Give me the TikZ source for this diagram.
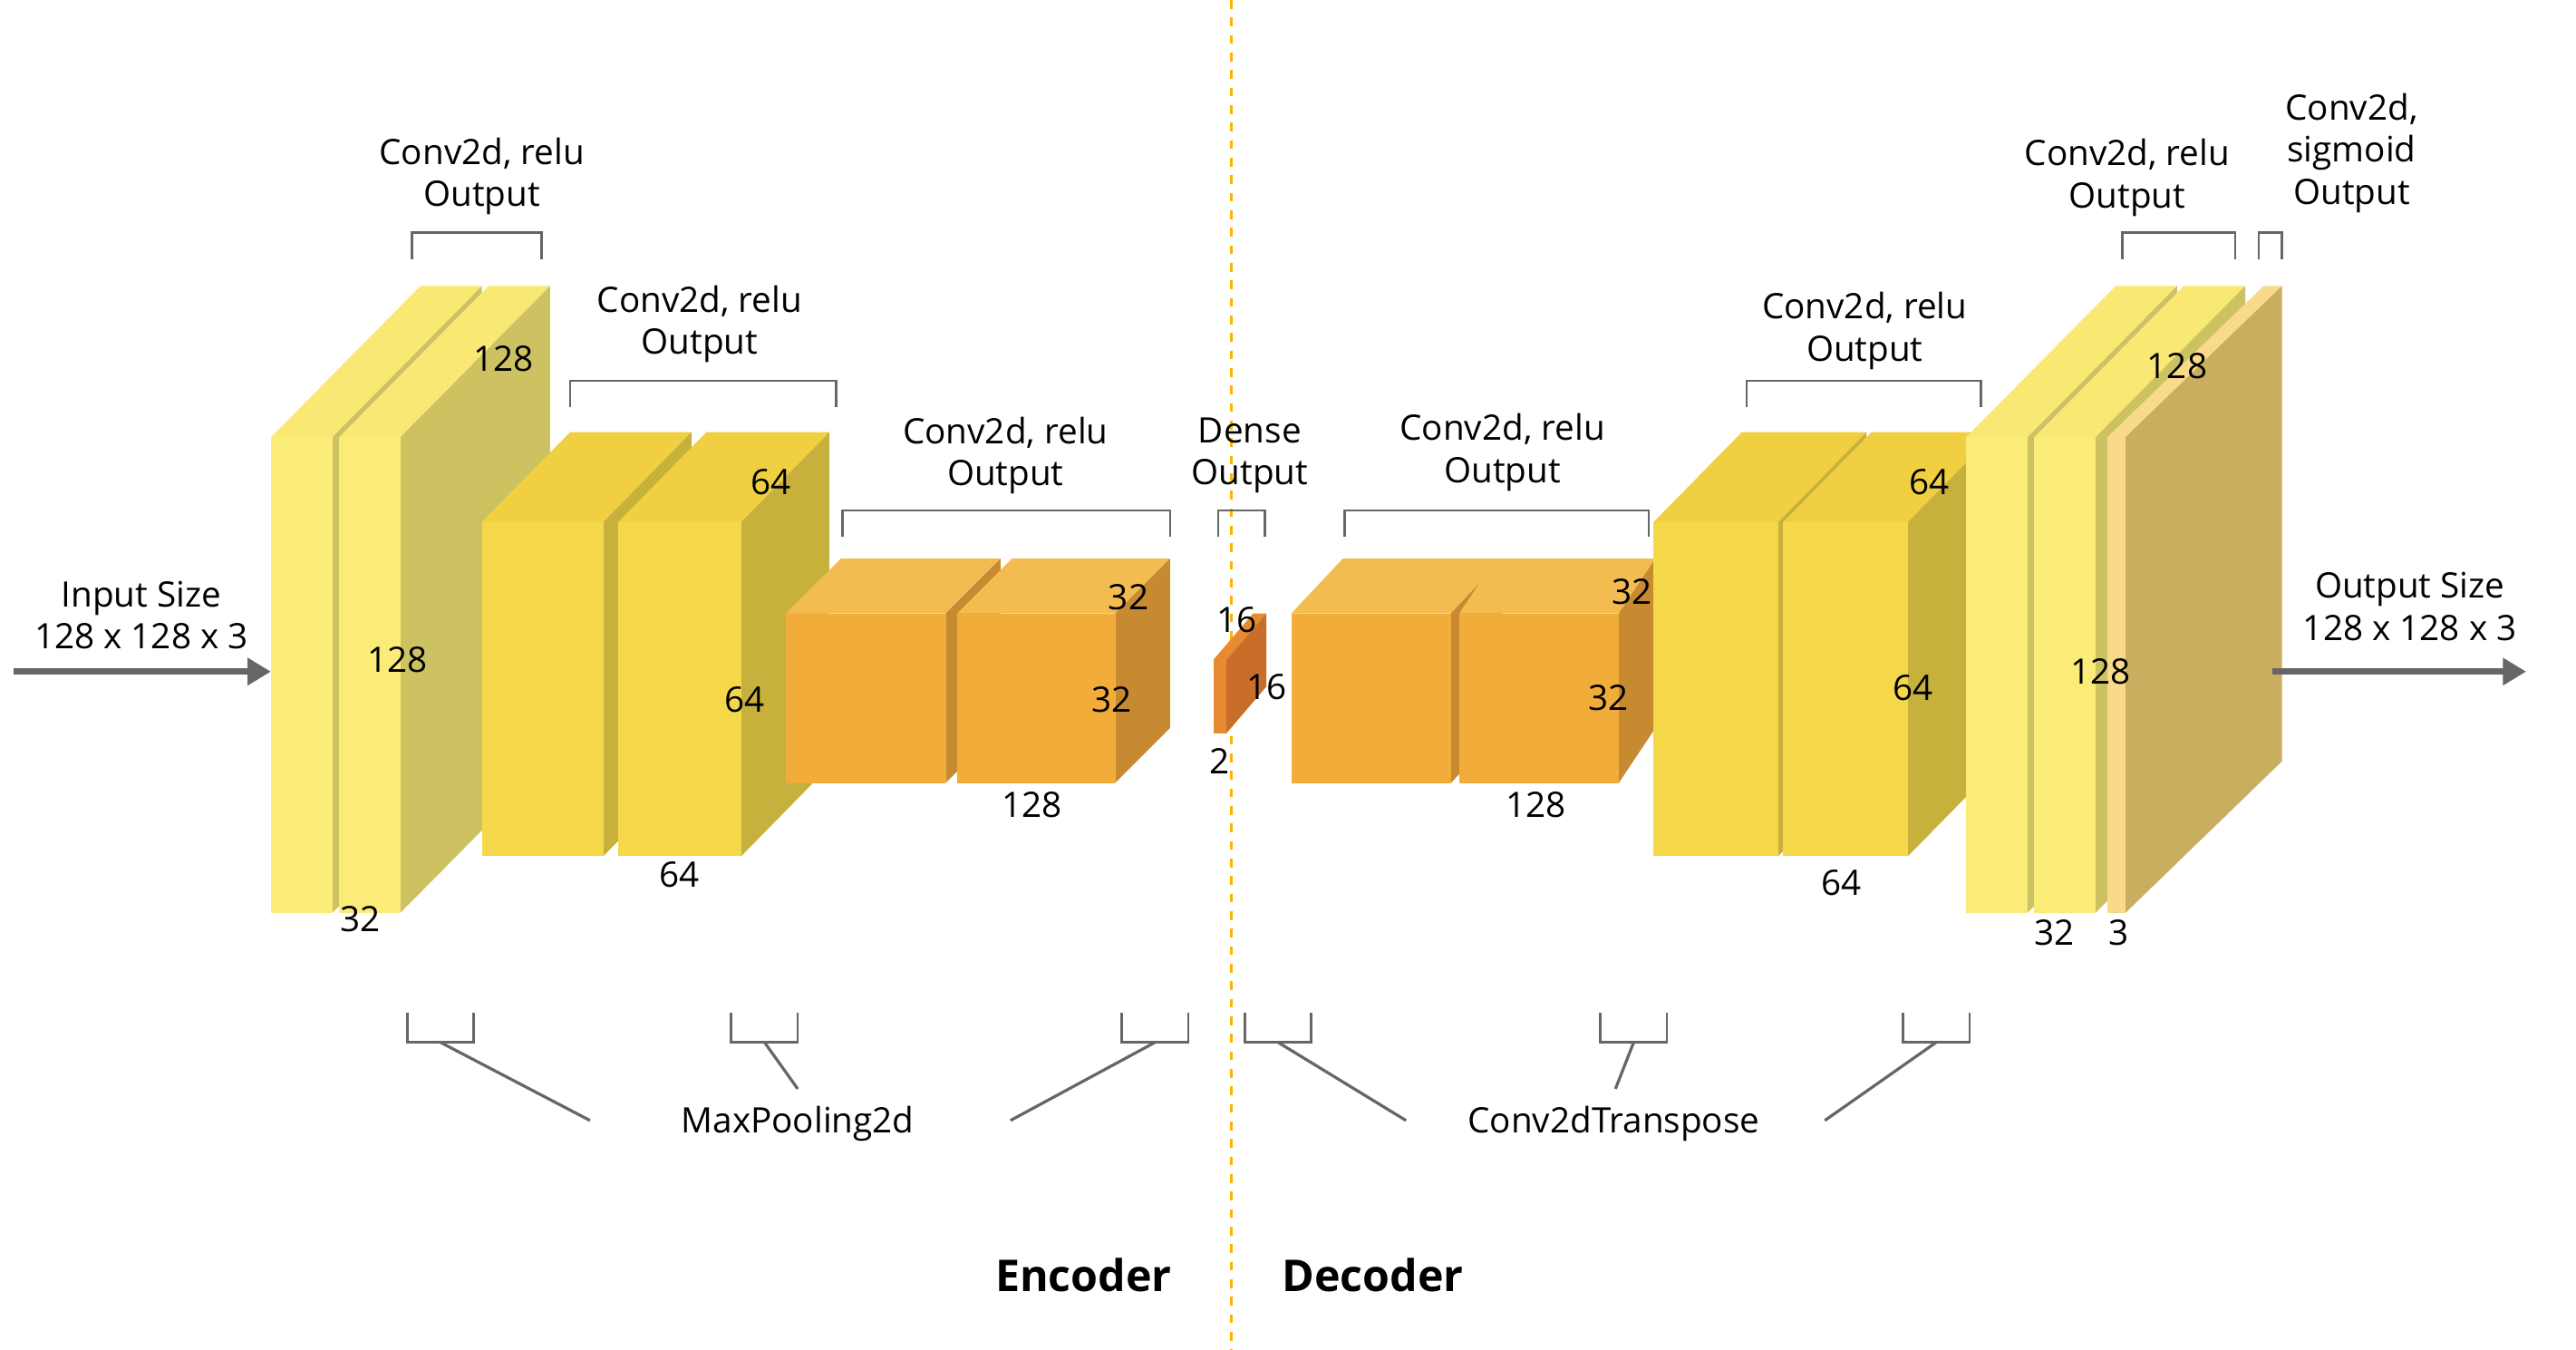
\documentclass[tikz,border=0pt]{standalone}
\usepackage{fontspec}
\setmainfont{Open Sans}
\usetikzlibrary{arrows.meta}
\definecolor{ya}{HTML}{FBEB78}\definecolor{yat}{HTML}{F9E874}\definecolor{yas}{HTML}{CDC262}
\definecolor{yb}{HTML}{F5D84A}\definecolor{ybt}{HTML}{F0D040}\definecolor{ybs}{HTML}{C8B03C}
\definecolor{oa}{HTML}{F2AC3A}\definecolor{oat}{HTML}{F2BC50}\definecolor{oas}{HTML}{C88A30}
\definecolor{od}{HTML}{E88A30}\definecolor{ods}{HTML}{C86E2A}
\definecolor{pe}{HTML}{F8DA8A}\definecolor{tan}{HTML}{C9AE60}
\newcommand\cub[9]{%
 \fill[#8] (#1,#3)--({#1+#5},{#3-#6})--({#2+#5},{#3-#6})--(#2,#3)--cycle;
 \fill[#9] (#2,#3)--({#2+#5},{#3-#6})--({#2+#5},{#4-#6})--(#2,#4)--cycle;
 \fill[#7] (#1,#3) rectangle (#2,#4);}
\newcommand\tbr[3]{\draw[br] (#1,{#3+16})--(#1,#3)--(#2,#3)--(#2,{#3+16});}
\newcommand\bbr[3]{\draw[br] (#1,{#3-18})--(#1,#3)--(#2,#3)--(#2,{#3-18});}
\begin{document}
\begin{tikzpicture}[x=0.02cm,y=-0.02cm,
 lab/.style={font=\fontsize{12}{14.5}\selectfont,align=center,inner sep=0pt},
 br/.style={draw=black!60,line width=0.8pt},
 ln/.style={draw=black!60,line width=1pt},
 arr/.style={draw=black!60,line width=2.2pt,-{Triangle[length=8pt,width=9pt]}}]
\useasboundingbox (0,0) rectangle (1550,812);
\draw[orange!60!yellow,dashed,line width=0.8pt] (741,0)--(741,812);
% encoder
\cub{163}{200}{263}{549}{90}{91}{ya}{yat}{yas}
\cub{204}{241}{263}{549}{90}{91}{ya}{yat}{yas}
\cub{290}{363}{314}{515}{53}{54}{yb}{ybt}{ybs}
\cub{372}{446}{314}{515}{53}{54}{yb}{ybt}{ybs}
\cub{473}{569}{369}{471}{33}{33}{oa}{oat}{oas}
\cub{576}{671}{369}{471}{33}{33}{oa}{oat}{oas}
\cub{730}{738}{397}{441}{24}{28}{od}{od}{ods}
% decoder
\cub{777}{873}{369}{471}{31}{33}{oa}{oat}{oas}
\cub{878}{974}{369}{471}{22}{33}{oa}{oat}{oas}
\cub{995}{1070}{314}{515}{53}{54}{yb}{ybt}{ybs}
\cub{1073}{1148}{314}{515}{53}{54}{yb}{ybt}{ybs}
\cub{1183}{1220}{263}{549}{90}{91}{ya}{yat}{yas}
\cub{1224}{1261}{263}{549}{90}{91}{ya}{yat}{yas}
\cub{1268}{1279}{263}{549}{94}{91}{pe}{pe}{tan}
% arrows
\coordinate (in) at (8,404); \coordinate (inb) at (163,404);
\coordinate (outa) at (1367,404); \coordinate (out) at (1520,404);
\draw[arr] (in)--(inb); \draw[arr] (outa)--(out);
% brackets
\tbr{248}{326}{140}\tbr{343}{503}{229}\tbr{507}{704}{307}\tbr{733}{761}{307}
\tbr{809}{992}{307}\tbr{1051}{1192}{229}\tbr{1277}{1345}{140}\tbr{1359}{1373}{140}
\bbr{245}{285}{627}\bbr{440}{480}{627}\bbr{675}{715}{627}
\bbr{749}{789}{627}\bbr{963}{1003}{627}\bbr{1145}{1185}{627}
\node[lab] (mp) at (480,676) {MaxPooling2d};
\node[lab] (ct) at (971,676) {Conv2dTranspose};
\coordinate (b1) at (265,627);\coordinate (b2) at (460,627);\coordinate (b3) at (695,627);
\coordinate (b4) at (769,627);\coordinate (b5) at (983,627);\coordinate (b6) at (1165,627);
\coordinate (l1) at (355,674);\coordinate (l2) at (480,655);\coordinate (l3) at (608,674);
\coordinate (l4) at (846,674);\coordinate (l5) at (972,655);\coordinate (l6) at (1098,674);
\draw[ln] (b1)--(l1); \draw[ln] (b2)--(l2); \draw[ln] (b3)--(l3);
\draw[ln] (b4)--(l4); \draw[ln] (b5)--(l5); \draw[ln] (b6)--(l6);
% labels
\node[lab] (t1) at (290,106) {Conv2d, relu\\Output};
\node[lab] (t2) at (421,195) {Conv2d, relu\\Output};
\node[lab] (t3) at (605,274) {Conv2d, relu\\Output};
\node[lab] (t4) at (752,274) {Dense\\Output};
\node[lab] (t5) at (904,272) {Conv2d, relu\\Output};
\node[lab] (t6) at (1122,199) {Conv2d, relu\\Output};
\node[lab] (t7) at (1280,107) {Conv2d, relu\\Output};
\node[lab] (t8) at (1415,92) {Conv2d,\\sigmoid\\Output};
\node[lab] (isz) at (85,370) {Input Size\\128 x 128 x 3};
\node[lab] (osz) at (1450,365) {Output Size\\128 x 128 x 3};
\node[lab] (n1) at (303,216) {128};\node[lab] (n2) at (239,397) {128};\node[lab] (n3) at (217,553) {32};
\node[lab] (n4) at (464,290) {64};\node[lab] (n5) at (448,421) {64};\node[lab] (n6) at (409,526) {64};
\node[lab] (n7) at (679,359) {32};\node[lab] (n8) at (669,421) {32};\node[lab] (n9) at (621,484) {128};
\node[lab] (n10) at (744,373) {16};\node[lab] (n11) at (762,413) {16};\node[lab] (n12) at (734,458) {2};
\node[lab] (n13) at (982,356) {32};\node[lab] (n14) at (968,420) {32};\node[lab] (n15) at (924,484) {128};
\node[lab] (n16) at (1161,290) {64};\node[lab] (n17) at (1151,414) {64};\node[lab] (n18) at (1108,531) {64};
\node[lab] (n19) at (1310,220) {128};\node[lab] (n20) at (1264,404) {128};
\node[lab] (n21) at (1236,561) {32};\node[lab] (n22) at (1275,561) {3};
\node[lab,font=\fontsize{15}{18}\selectfont\bfseries] (enc) at (652,767) {Encoder};
\node[lab,font=\fontsize{15}{18}\selectfont\bfseries] (dec) at (826,767) {Decoder};
\end{tikzpicture}
\end{document}
